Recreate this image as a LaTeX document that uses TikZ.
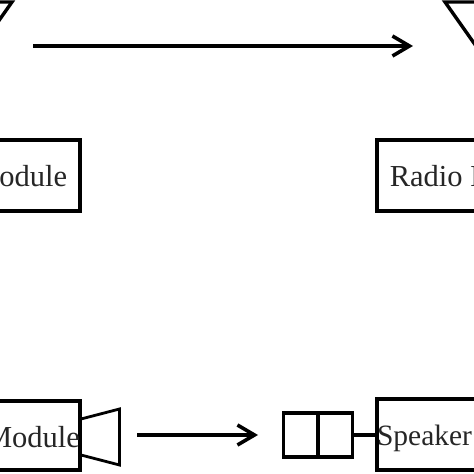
\documentclass[tikz,border=0pt]{standalone}
\usepackage{fontspec}
\setmainfont{Liberation Serif}
\usetikzlibrary{arrows.meta,positioning}
\begin{document}
\begin{tikzpicture}[
 x=1pt,y=1pt,
 node distance=23pt and 297pt,
 every node/.style={outer sep=0pt},
 b/.style={draw,line width=3.4pt,text=black!85,minimum width=201pt,minimum height=71pt,inner xsep=0pt,inner ysep=0pt,text height=26pt,text depth=3pt,font=\fontsize{30.5}{31}\selectfont},
 c/.style={draw,line width=3.4pt,minimum width=34.5pt,minimum height=44pt,inner sep=0pt},
 a/.style={-{Straight Barb[length=17pt,width=20pt,line width=3.6pt]},line width=3.6pt},
 l/.style={line width=3.4pt},
 h/.style={line width=2.8pt,line join=miter}
]
\clip (0,0) rectangle (474,474);
\node[b,anchor=north east] (radioa) at (80,334) {Radio Module};
\node[b,right=of radioa] (radiob) {Radio Module};
\node[b,anchor=north east,minimum height=69pt,text width=201pt,align=right] (audio) at (80,73) {Module};
\node[b,anchor=north west,text width=201pt,align=left,font=\fontsize{29.5}{31}\selectfont] (speaker) at (377,75) {Speaker};
\node[c,anchor=east] (cellb) at (352.5,39) {};
\node[c,left=0pt of cellb] (cella) {};
% antennas
\draw[l] (12,472) -- (-50,472) -- (-19,428) -- cycle;
\draw[l] (445,472) -- (507,472) -- (476,428) -- cycle;
% horn
\draw[h] (81,55) -- (119.5,65) -- (119.5,9) -- (81,19);
\coordinate (txa) at (33,428);
\coordinate (txb) at (413,428);
\coordinate (sda) at (137,39);
\coordinate (sdb) at (258,39);
\draw[a] (txa) -- (txb);
\draw[a] (sda) -- (sdb);
\draw[l] (cellb.east) -- (speaker.west |- cellb.east);
\end{tikzpicture}
\end{document}
